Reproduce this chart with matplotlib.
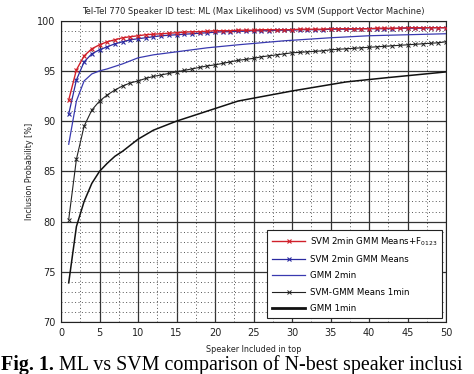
import matplotlib
matplotlib.use("Agg")
import matplotlib.pyplot as plt
import numpy as np
from matplotlib.ticker import MultipleLocator

# ---- data ----
x_full = list(range(1, 51))
svm_f0 = [92.1, 95.1, 96.5, 97.2, 97.6, 97.9, 98.1, 98.3, 98.4, 98.5,
          98.6, 98.65, 98.7, 98.75, 98.8, 98.85, 98.9, 98.9, 98.95, 99.0,
          99.0, 99.0, 99.05, 99.05, 99.05, 99.1, 99.1, 99.1, 99.1, 99.1,
          99.15, 99.15, 99.15, 99.15, 99.2, 99.2, 99.2, 99.2, 99.2, 99.2,
          99.25, 99.25, 99.25, 99.25, 99.3, 99.3, 99.3, 99.3, 99.3, 99.3]
svm_means = [90.7, 94.1, 95.9, 96.7, 97.1, 97.4, 97.7, 97.9, 98.1, 98.2,
             98.3, 98.4, 98.5, 98.55, 98.6, 98.65, 98.7, 98.75, 98.8, 98.85,
             98.9, 98.9, 98.95, 98.95, 99.0, 99.0, 99.0, 99.05, 99.05, 99.05,
             99.1, 99.1, 99.1, 99.1, 99.15, 99.15, 99.15, 99.15, 99.2, 99.2,
             99.2, 99.2, 99.2, 99.25, 99.25, 99.25, 99.25, 99.3, 99.3, 99.3]
svm_1min = [80.2, 86.2, 89.5, 91.1, 92.0, 92.6, 93.1, 93.5, 93.8, 94.0,
            94.25, 94.45, 94.6, 94.75, 94.9, 95.05, 95.2, 95.35, 95.5, 95.6,
            95.75, 95.9, 96.05, 96.15, 96.25, 96.4, 96.5, 96.6, 96.7, 96.8,
            96.85, 96.9, 96.95, 97.0, 97.1, 97.15, 97.2, 97.25, 97.3, 97.35,
            97.4, 97.45, 97.5, 97.55, 97.6, 97.65, 97.7, 97.75, 97.8, 97.9]
x_gmm2 = [1, 2, 3, 4, 5, 6, 8, 10, 12, 15, 19, 23, 29, 35, 40, 45, 50]
gmm_2min = [87.7, 92.0, 94.0, 94.7, 95.0, 95.2, 95.7, 96.3, 96.6, 96.9,
            97.3, 97.6, 98.0, 98.3, 98.5, 98.6, 98.7]
x_gmm1 = [1, 2, 3, 4, 5, 6, 7, 8, 9, 10, 12, 15, 19, 23, 30, 37, 42, 50]
gmm_1min = [73.9, 79.5, 82.0, 83.8, 85.0, 85.8, 86.5, 87.0, 87.6, 88.2,
            89.1, 90.0, 91.0, 92.0, 93.0, 93.9, 94.3, 94.9]

labels = ["SVM 2min GMM Means+F$_{0123}$", "SVM 2min GMM Means", "GMM 2min",
          "SVM-GMM Means 1min", "GMM 1min"]
title = "Tel-Tel 770 Speaker ID test: ML (Max Likelihood) vs SVM (Support Vector Machine)"
xlabel = "Speaker Included in top"
ylabel = "Inclusion Probability [%]"
caption_bold = "Fig. 1."
caption_rest = "ML vs SVM comparison of N-best speaker inclusi"

fig = plt.figure(figsize=(4.74, 3.74), dpi=100)
ax = fig.add_axes([0.1287, 0.139, 0.8123, 0.8057])

ax.plot(x_full, svm_f0, color="#d0202a", lw=1.0, marker="x", ms=3.5, mew=0.8,
        label=labels[0], zorder=5)
ax.plot(x_full, svm_means, color="#2a2aa0", lw=0.9, marker="x", ms=3.5, mew=0.8,
        label=labels[1], zorder=4)
ax.plot(x_gmm2, gmm_2min, color="#3a3ab0", lw=0.9, label=labels[2], zorder=3)
ax.plot(x_full, svm_1min, color="#222222", lw=0.8, marker="x", ms=3.5, mew=0.7,
        label=labels[3], zorder=3)
ax.plot(x_gmm1, gmm_1min, color="#111111", lw=1.1, label=labels[4], zorder=3)

ax.set_xlim(0, 50)
ax.set_ylim(70, 100)
ax.xaxis.set_major_locator(MultipleLocator(5))
ax.yaxis.set_major_locator(MultipleLocator(5))
ax.xaxis.set_minor_locator(MultipleLocator(2.5))
ax.yaxis.set_minor_locator(MultipleLocator(1))
ax.grid(which="major", color="#333333", lw=0.9, ls="-")
ax.grid(which="minor", color="#555555", lw=0.7, ls=(0, (1, 2.5)))
ax.tick_params(which="both", length=0, labelsize=7, pad=4, colors="#222222")
for s in ax.spines.values():
    s.set_color("#222222")
    s.set_linewidth(0.8)

ax.set_title(title, fontsize=6.0, pad=5, color="#222222")
ax.set_xlabel(xlabel, fontsize=5.8, labelpad=5, color="#222222")
ax.set_ylabel(ylabel, fontsize=5.8, labelpad=2, color="#222222")

handles, labs = ax.get_legend_handles_labels()
leg = ax.legend(handles, labs, loc="lower right", fontsize=6.2, frameon=True,
                fancybox=False, edgecolor="#222222", framealpha=1,
                handlelength=3.9, handletextpad=0.5, borderaxespad=0.45,
                labelspacing=0.85, borderpad=0.6)
leg.get_frame().set_linewidth(0.8)
leg.get_lines()[4].set_linewidth(2.0)

t1 = fig.text(0.003, 0.0107, caption_bold, fontsize=14.4, family="Liberation Serif",
              fontweight="bold", ha="left", va="baseline")
fig.canvas.draw()
bb = t1.get_window_extent(renderer=fig.canvas.get_renderer())
x2 = (bb.x1 + 5) / fig.bbox.width
fig.text(x2, 0.0107, caption_rest, fontsize=14.4, family="Liberation Serif",
         ha="left", va="baseline")

fig.savefig("out.png", dpi=100)
